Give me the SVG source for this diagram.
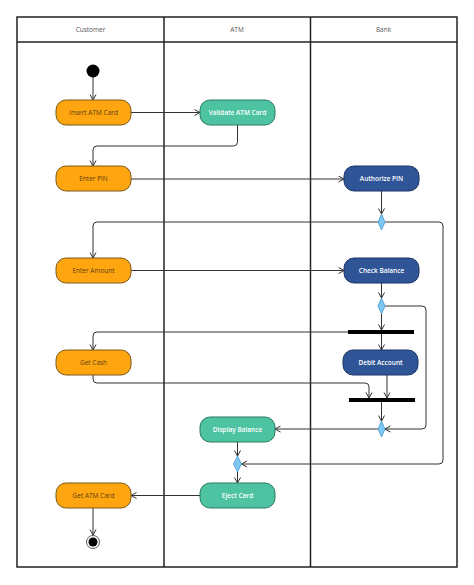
<svg xmlns="http://www.w3.org/2000/svg" width="474" height="585" viewBox="0 0 474 585">
<defs>
<marker id="arr" markerWidth="8" markerHeight="8" refX="6" refY="3.5" orient="auto" markerUnits="userSpaceOnUse">
<path d="M0.5,0.5 L6,3.5 L0.5,6.5" fill="none" stroke="#333" stroke-width="1"/>
</marker>
<style>
.lane{fill:none;stroke:#222;stroke-width:1.5}
.hdr{font-family:"Open Sans","Noto Sans",sans-serif;font-size:6.5px;fill:#555;text-anchor:middle}
.lbl{font-family:"Open Sans","Noto Sans",sans-serif;font-size:6.5px;text-anchor:middle;dominant-baseline:central}
.cust rect{fill:#FFA510;stroke:#7a5a1a;stroke-width:1}
.cust text{fill:#5a4010}
.atm rect{fill:#4DC3A2;stroke:#2c7a62;stroke-width:1}
.atm text{fill:#fff;font-weight:600}
.bank rect{fill:#2F5597;stroke:#1d3566;stroke-width:1}
.bank text{fill:#fff;font-weight:600}
.dia{fill:#7CC8F2;stroke:#4a98cc;stroke-width:0.8}
.bar{fill:#000}
#connectors path{fill:none;stroke:#333;stroke-width:1}
.arr{marker-end:url(#arr)}
</style>
</defs>
<rect x="0" y="0" width="474" height="585" fill="#fff"/>
<g id="lanes">
<rect class="lane" x="17" y="17" width="440" height="550"/>
<line class="lane" x1="17" y1="42" x2="457" y2="42"/>
<line class="lane" x1="164" y1="17" x2="164" y2="567"/>
<line class="lane" x1="310.5" y1="17" x2="310.5" y2="567"/>
<text class="hdr" x="90.5" y="31.5">Customer</text>
<text class="hdr" x="237" y="31.5">ATM</text>
<text class="hdr" x="383.5" y="31.5">Bank</text>
</g>
<g id="connectors">
<path class="arr" d="M93,77 V100"/>
<path class="arr" d="M131,112.5 H200"/>
<path class="arr" d="M237.5,125 V142 Q237.5,146 233.5,146 H97 Q93,146 93,150 V166"/>
<path class="arr" d="M131,179 H344"/>
<path class="arr" d="M381.5,191 V214"/>
<path class="arr" d="M378,222 H97 Q93,222 93,226 V258"/>
<path class="arr" d="M385,222 H439 Q443,222 443,226 V460 Q443,464 439,464 H241.5"/>
<path class="arr" d="M131,270.5 H344"/>
<path class="arr" d="M381.5,283 V298"/>
<path class="arr" d="M385,306 H422 Q426,306 426,310 V425 Q426,429 422,429 H385"/>
<path class="arr" d="M381.5,314 V330"/>
<path class="arr" d="M348,332 H97 Q93,332 93,336 V350"/>
<path class="arr" d="M381.5,334 V350"/>
<path class="arr" d="M93,375 V379 Q93,383 97,383 H365 Q369,383 369,387 V398"/>
<path class="arr" d="M387,375 V398"/>
<path class="arr" d="M381.5,402 V421"/>
<path class="arr" d="M378,429 H275"/>
<path class="arr" d="M237.5,442 V456"/>
<path class="arr" d="M237.5,472 V483"/>
<path class="arr" d="M200,495.5 H131"/>
<path class="arr" d="M93,508 V535"/>
</g>
<g id="start"><circle cx="93" cy="71" r="6.5" fill="#000"/></g>
<g id="insert-card" class="cust"><rect x="56" y="100" width="75" height="25" rx="10"/><text class="lbl" x="93.5" y="112.5">Insert ATM Card</text></g>
<g id="validate-card" class="atm"><rect x="200" y="100" width="75" height="25" rx="10"/><text class="lbl" x="237.5" y="112.5">Validate ATM Card</text></g>
<g id="enter-pin" class="cust"><rect x="56" y="166" width="75" height="25" rx="10"/><text class="lbl" x="93.5" y="178.5">Enter PIN</text></g>
<g id="authorize-pin" class="bank"><rect x="344" y="166" width="75" height="25" rx="10"/><text class="lbl" x="381.5" y="178.5">Authorize PIN</text></g>
<g id="decision1"><polygon class="dia" points="381.5,214 385,222 381.5,230 378,222"/></g>
<g id="enter-amount" class="cust"><rect x="56" y="258" width="75" height="25" rx="10"/><text class="lbl" x="93.5" y="270.5">Enter Amount</text></g>
<g id="check-balance" class="bank"><rect x="344" y="258" width="75" height="25" rx="10"/><text class="lbl" x="381.5" y="270.5">Check Balance</text></g>
<g id="decision2"><polygon class="dia" points="381.5,298 385,306 381.5,314 378,306"/></g>
<g id="fork"><rect class="bar" x="348" y="330" width="66" height="4"/></g>
<g id="get-cash" class="cust"><rect x="56" y="350" width="75" height="25" rx="10"/><text class="lbl" x="93.5" y="362.5">Get Cash</text></g>
<g id="debit-account" class="bank"><rect x="343" y="350" width="75" height="25" rx="10"/><text class="lbl" x="380.5" y="362.5">Debit Account</text></g>
<g id="join"><rect class="bar" x="349" y="398" width="66" height="4"/></g>
<g id="decision3"><polygon class="dia" points="381.5,421 385,429 381.5,437 378,429"/></g>
<g id="display-balance" class="atm"><rect x="200" y="417" width="75" height="25" rx="10"/><text class="lbl" x="237.5" y="429.5">Display Balance</text></g>
<g id="merge"><polygon class="dia" points="237.5,456 241.5,464 237.5,472 233.5,464"/></g>
<g id="eject-card" class="atm"><rect x="200" y="483" width="75" height="25" rx="10"/><text class="lbl" x="237.5" y="495.5">Eject Card</text></g>
<g id="get-card" class="cust"><rect x="56" y="483" width="75" height="25" rx="10"/><text class="lbl" x="93.5" y="495.5">Get ATM Card</text></g>
<g id="end"><circle cx="93" cy="542" r="6.5" fill="#fff" stroke="#333" stroke-width="0.8"/><circle cx="93" cy="542" r="4.5" fill="#000"/></g>
</svg>
